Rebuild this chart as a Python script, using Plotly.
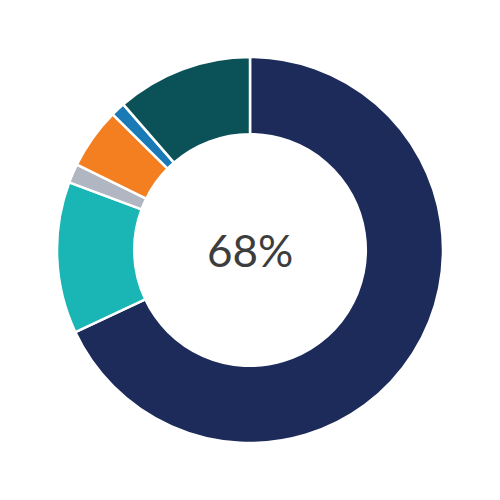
import plotly.graph_objects as go

labels = ["A", "B", "C", "D", "E", "F"]
values = [68.0, 12.7, 1.6, 5.1, 1.2, 11.4]
colors = ["#1c2b5a", "#1ab5b5", "#b0b7c3", "#f47f20", "#1a7ab5", "#0a5258"]
center_text = "68%"

fig = go.Figure(go.Pie(
    labels=labels, values=values, hole=0.6, sort=False, direction="clockwise",
    rotation=0, textinfo="none", hoverinfo="label+percent",
    marker=dict(colors=colors, line=dict(color="white", width=2.5)),
))
fig.add_annotation(text=center_text, x=0.5, y=0.5, xref="paper", yref="paper",
                   showarrow=False, font=dict(family="Lato", size=44, color="#3d3d3d"))
fig.update_layout(width=500, height=500, showlegend=False,
                  margin=dict(l=49, r=65, t=49, b=65),
                  paper_bgcolor="white", plot_bgcolor="white")
fig.write_html("out.html")
